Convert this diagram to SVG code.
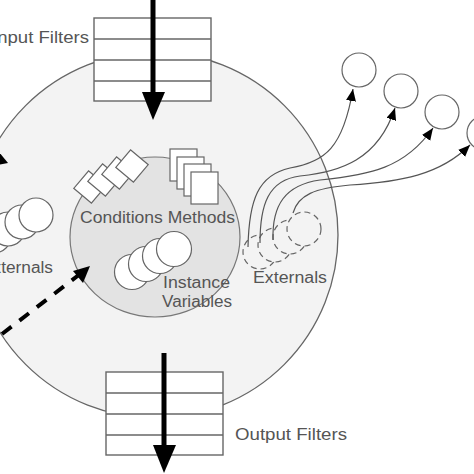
<svg xmlns="http://www.w3.org/2000/svg" width="474" height="474" viewBox="0 0 474 474">
<defs>
<style>
.lbl{font-family:"Liberation Sans","DejaVu Sans",sans-serif;font-size:16px;fill:#555}
.shape{fill:#fff;stroke:#666;stroke-width:1.2}
.filter{fill:#fff;stroke:#666;stroke-width:1.4}
.dash{fill:#f3f3f3;stroke:#666;stroke-width:1.2;stroke-dasharray:6 4}
.curve{fill:none;stroke:#555;stroke-width:1.2;marker-end:url(#ah)}
.bigarrow{stroke:#000;stroke-width:5;fill:none}
</style>
<marker id="ah" markerUnits="userSpaceOnUse" markerWidth="13" markerHeight="11" refX="12" refY="5" orient="auto">
<path d="M0,0 L12,5 L0,10 z" fill="#000"/>
</marker>
</defs>
<rect width="474" height="474" fill="#fff"/>

<g id="object">
<circle cx="155" cy="235" r="183" fill="#f3f3f3" stroke="#666" stroke-width="1.3"/>
</g>

<g id="core">
<ellipse cx="155" cy="237" rx="85" ry="80" fill="#e3e3e3" stroke="#777" stroke-width="1.2"/>
</g>

<g id="input-filters">
<rect class="filter" x="94" y="18" width="117" height="83"/>
<line x1="94" y1="39" x2="211" y2="39" stroke="#666" stroke-width="1.4"/>
<line x1="94" y1="60" x2="211" y2="60" stroke="#666" stroke-width="1.4"/>
<line x1="94" y1="81" x2="211" y2="81" stroke="#666" stroke-width="1.4"/>
<text class="lbl" x="-8" y="43" textLength="97" lengthAdjust="spacingAndGlyphs">Input Filters</text>
</g>

<g id="output-filters">
<rect class="filter" x="106" y="372" width="117" height="83"/>
<line x1="106" y1="393" x2="223" y2="393" stroke="#666" stroke-width="1.4"/>
<line x1="106" y1="414" x2="223" y2="414" stroke="#666" stroke-width="1.4"/>
<line x1="106" y1="435" x2="223" y2="435" stroke="#666" stroke-width="1.4"/>
<text class="lbl" x="235" y="440" textLength="112" lengthAdjust="spacingAndGlyphs">Output Filters</text>
</g>

<g id="conditions">
<rect class="shape" x="-11.5" y="-11.5" width="23" height="23" transform="translate(90,187) rotate(40)"/>
<rect class="shape" x="-11.5" y="-11.5" width="23" height="23" transform="translate(104,180) rotate(40)"/>
<rect class="shape" x="-11.5" y="-11.5" width="23" height="23" transform="translate(118,173) rotate(40)"/>
<rect class="shape" x="-11.5" y="-11.5" width="23" height="23" transform="translate(132,166) rotate(40)"/>
</g>

<g id="methods">
<rect class="shape" x="170" y="149" width="27" height="32"/>
<rect class="shape" x="177" y="157" width="27" height="32"/>
<rect class="shape" x="184" y="164" width="27" height="32"/>
<rect class="shape" x="191" y="172" width="27" height="32"/>
</g>

<text class="lbl" x="80" y="223" textLength="155" lengthAdjust="spacingAndGlyphs">Conditions Methods</text>

<g id="instance-variables">
<circle class="shape" cx="132" cy="272" r="17.5"/>
<circle class="shape" cx="146" cy="264" r="17.5"/>
<circle class="shape" cx="160" cy="256" r="17.5"/>
<circle class="shape" cx="174" cy="249" r="17.5"/>
<text class="lbl" x="163" y="288" textLength="67" lengthAdjust="spacingAndGlyphs">Instance</text>
<text class="lbl" x="162" y="307" textLength="70" lengthAdjust="spacingAndGlyphs">Variables</text>
</g>

<g id="externals-left">
<circle class="shape" cx="-6" cy="236" r="17"/>
<circle class="shape" cx="8" cy="229" r="17"/>
<circle class="shape" cx="22" cy="222" r="17"/>
<circle class="shape" cx="36" cy="215" r="17"/>
<text class="lbl" x="-19" y="273" textLength="72" lengthAdjust="spacingAndGlyphs">Externals</text>
<path d="M-1,152 L8,163 L-3,165 z" fill="#000"/>
</g>

<g id="externals-right">
<circle class="dash" cx="260" cy="252" r="17"/>
<circle class="dash" cx="275" cy="245" r="17"/>
<circle class="dash" cx="290" cy="237" r="17"/>
<circle class="dash" cx="304" cy="229" r="17"/>
<text class="lbl" x="253" y="283" textLength="74" lengthAdjust="spacingAndGlyphs">Externals</text>
</g>

<g id="targets">
<circle class="shape" cx="359" cy="70" r="17"/>
<circle class="shape" cx="401" cy="91" r="17"/>
<circle class="shape" cx="442" cy="112" r="17"/>
<circle class="shape" cx="484" cy="133" r="17"/>
</g>

<g id="connectors">
<line class="bigarrow" x1="153" y1="0" x2="153" y2="95"/>
<path d="M142,92 L165,92 L153,120 z" fill="#000"/>
<line class="bigarrow" x1="164" y1="353" x2="164" y2="448"/>
<path d="M153,445 L176,445 L164,473 z" fill="#000"/>
<line x1="2" y1="334" x2="80" y2="274" stroke="#000" stroke-width="4" stroke-dasharray="12 10"/>
<path d="M90,266 L83,283 L73,271 z" fill="#000"/>
<path class="curve" d="M248,247 C249,200 258,175 290,168 C325,162 343,148 353,89"/>
<path class="curve" d="M260,243 C260,205 268,180 300,176 C340,172 378,160 395,108"/>
<path class="curve" d="M273,240 C272,205 285,185 320,180 C370,175 405,168 433,128"/>
<path class="curve" d="M293,213 C298,195 315,188 350,185 C400,182 440,175 470,145"/>
</g>
</svg>
